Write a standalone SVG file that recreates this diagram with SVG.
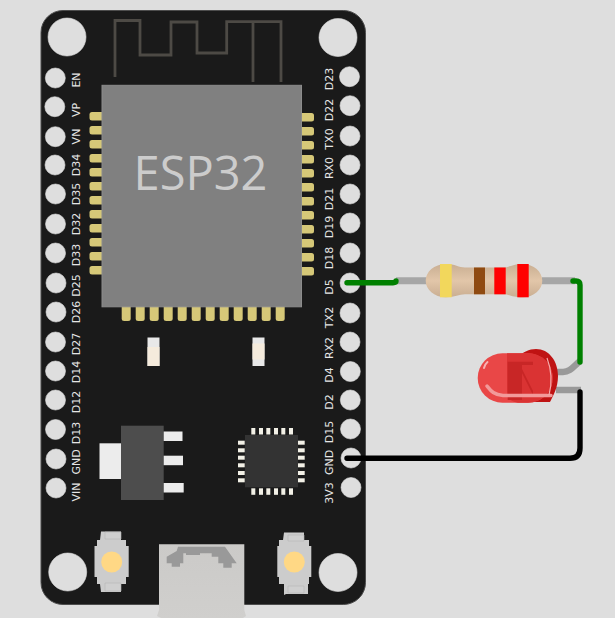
<svg xmlns="http://www.w3.org/2000/svg" width="615" height="618" viewBox="0 0 615 618">
<defs>
<linearGradient id="resBody" x1="0" y1="0" x2="0" y2="1">
<stop offset="0" stop-color="#c9ae92"/><stop offset="0.5" stop-color="#e2c6a9"/><stop offset="1" stop-color="#c9ae92"/>
</linearGradient>
<linearGradient id="usbFill" x1="0" y1="0" x2="0" y2="1">
<stop offset="0" stop-color="#cbcac8"/><stop offset="1" stop-color="#d0cfcd"/>
</linearGradient>
</defs>
<style>
.hole{fill:#dedede;stroke:#dedede;stroke-width:.6}
.lab{font-family:"DejaVu Sans",sans-serif;font-size:11px;fill:#e6e6e6;text-anchor:middle}
.pad{fill:#d6c878}
.qfn{fill:#f2f0e6}
.reg{fill:#ececec}
.ant{fill:none;stroke:#4d4a45;stroke-width:2.8}
.btn{fill:#cccccc}
.cap{fill:#ffd885}
.usbg{fill:#999999}
.wire{fill:none;stroke-width:5.4;stroke-linecap:round;stroke-linejoin:round}
.lead{fill:none;stroke:#a6a6a6;stroke-width:7}
</style>
<rect width="615" height="618" fill="#dedede"/>
<g id="esp32">
<rect x="41" y="10.5" width="324.5" height="594" rx="22" fill="#1a1a1a" stroke="#4d4d4d" stroke-width="1"/>
<path class="ant" d="M115 77V20.5H140V55H171V22H197V53H226.7V21.7H281V82M253 21.7V82"/>
<g class="hole">
<circle cx="67" cy="37" r="19"/><circle cx="338" cy="37.5" r="19"/><circle cx="67.7" cy="572" r="19"/><circle cx="338" cy="572.5" r="19"/>
<circle cx="55.3" cy="78" r="10"/><circle cx="54.8" cy="106.7" r="10"/><circle cx="55.3" cy="136.7" r="10"/><circle cx="55" cy="165" r="10"/><circle cx="55.5" cy="194" r="10"/><circle cx="55.5" cy="224" r="10"/><circle cx="55.5" cy="253" r="10"/><circle cx="56" cy="283" r="10"/><circle cx="56" cy="312" r="10"/><circle cx="55.5" cy="342" r="10"/><circle cx="55.5" cy="371" r="10"/><circle cx="55.5" cy="400" r="10"/><circle cx="55.5" cy="429.5" r="10"/><circle cx="56" cy="459" r="10"/><circle cx="56" cy="488" r="10"/>
<circle cx="349.5" cy="76.7" r="10"/><circle cx="350" cy="105.7" r="10"/><circle cx="350" cy="136" r="10"/><circle cx="350" cy="165" r="10"/><circle cx="350" cy="194" r="10"/><circle cx="350" cy="223" r="10"/><circle cx="350" cy="253" r="10"/><circle cx="350" cy="283" r="10"/><circle cx="350" cy="313" r="10"/><circle cx="350" cy="342" r="10"/><circle cx="350.3" cy="371.5" r="10"/><circle cx="350.3" cy="400" r="10"/><circle cx="350.5" cy="429" r="10"/><circle cx="351" cy="458" r="10"/><circle cx="351" cy="487.5" r="10"/>
</g>
<g class="lab">
<text transform="translate(80 80) rotate(-90)">EN</text>
<text transform="translate(80 110) rotate(-90)">VP</text>
<text transform="translate(80 136.5) rotate(-90)">VN</text>
<text transform="translate(80 165) rotate(-90)">D34</text>
<text transform="translate(80 194) rotate(-90)">D35</text>
<text transform="translate(80 224) rotate(-90)">D32</text>
<text transform="translate(80 255) rotate(-90)">D33</text>
<text transform="translate(80 285.5) rotate(-90)">D25</text>
<text transform="translate(80 312) rotate(-90)">D26</text>
<text transform="translate(80 344) rotate(-90)">D27</text>
<text transform="translate(80 372) rotate(-90)">D14</text>
<text transform="translate(80 402) rotate(-90)">D12</text>
<text transform="translate(80 433) rotate(-90)">D13</text>
<text transform="translate(80 462) rotate(-90)">GND</text>
<text transform="translate(80 492) rotate(-90)">VIN</text>
<text transform="translate(333 79) rotate(-90)">D23</text>
<text transform="translate(333 110) rotate(-90)">D22</text>
<text transform="translate(333 139) rotate(-90)">TX0</text>
<text transform="translate(333 168) rotate(-90)">RX0</text>
<text transform="translate(333 199) rotate(-90)">D21</text>
<text transform="translate(333 227) rotate(-90)">D19</text>
<text transform="translate(333 258) rotate(-90)">D18</text>
<text transform="translate(333 287) rotate(-90)">D5</text>
<text transform="translate(333 317.5) rotate(-90)">TX2</text>
<text transform="translate(333 348) rotate(-90)">RX2</text>
<text transform="translate(333 375) rotate(-90)">D4</text>
<text transform="translate(333 402) rotate(-90)">D2</text>
<text transform="translate(333 432) rotate(-90)">D15</text>
<text transform="translate(333 462.5) rotate(-90)">GND</text>
<text transform="translate(333 493) rotate(-90)">3V3</text>
</g>
<g class="pad">
<rect x="89.5" y="112" width="16" height="8.5" rx="2.5"/><rect x="89.5" y="126" width="16" height="8.5" rx="2.5"/><rect x="89.5" y="140" width="16" height="8.5" rx="2.5"/><rect x="89.5" y="154" width="16" height="8.5" rx="2.5"/><rect x="89.5" y="168" width="16" height="8.5" rx="2.5"/><rect x="89.5" y="182" width="16" height="8.5" rx="2.5"/><rect x="89.5" y="196" width="16" height="8.5" rx="2.5"/><rect x="89.5" y="210" width="16" height="8.5" rx="2.5"/><rect x="89.5" y="224" width="16" height="8.5" rx="2.5"/><rect x="89.5" y="238" width="16" height="8.5" rx="2.5"/><rect x="89.5" y="252" width="16" height="8.5" rx="2.5"/><rect x="89.5" y="266" width="16" height="8.5" rx="2.5"/>
<rect x="298" y="113" width="16" height="8.5" rx="2.5"/><rect x="298" y="127" width="16" height="8.5" rx="2.5"/><rect x="298" y="141" width="16" height="8.5" rx="2.5"/><rect x="298" y="155" width="16" height="8.5" rx="2.5"/><rect x="298" y="169" width="16" height="8.5" rx="2.5"/><rect x="298" y="183" width="16" height="8.5" rx="2.5"/><rect x="298" y="197" width="16" height="8.5" rx="2.5"/><rect x="298" y="211" width="16" height="8.5" rx="2.5"/><rect x="298" y="225" width="16" height="8.5" rx="2.5"/><rect x="298" y="239" width="16" height="8.5" rx="2.5"/><rect x="298" y="253" width="16" height="8.5" rx="2.5"/><rect x="298" y="267" width="16" height="8.5" rx="2.5"/>
<rect x="121.7" y="303" width="9" height="18" rx="2.5"/><rect x="135.7" y="303" width="9" height="18" rx="2.5"/><rect x="149.7" y="303" width="9" height="18" rx="2.5"/><rect x="163.7" y="303" width="9" height="18" rx="2.5"/><rect x="177.7" y="303" width="9" height="18" rx="2.5"/><rect x="191.7" y="303" width="9" height="18" rx="2.5"/><rect x="205.7" y="303" width="9" height="18" rx="2.5"/><rect x="219.7" y="303" width="9" height="18" rx="2.5"/><rect x="233.7" y="303" width="9" height="18" rx="2.5"/><rect x="247.7" y="303" width="9" height="18" rx="2.5"/><rect x="261.7" y="303" width="9" height="18" rx="2.5"/><rect x="275.7" y="303" width="9" height="18" rx="2.5"/>
</g>
<rect x="102" y="85.3" width="199.5" height="221.5" fill="#808080" stroke="#8c8c8c" stroke-width="1"/>
<text x="200.5" y="190" font-family="'Open Sans',sans-serif" font-size="47" fill="#cccccc" text-anchor="middle">ESP32</text>
<rect x="147.5" y="337.5" width="12" height="28.5" fill="#e8e8e8"/><rect x="147.5" y="347" width="12" height="19" fill="#f5ebdc"/>
<rect x="252.5" y="337.5" width="12" height="28.5" fill="#e8e8e8"/><rect x="252.5" y="343.5" width="12" height="16" fill="#f5ebdc"/>
<rect x="121" y="425.7" width="42.7" height="74.3" fill="#4d4d4d"/>
<rect class="reg" x="99.5" y="443.3" width="21.5" height="35.7"/>
<rect class="reg" x="163.7" y="431.5" width="18.8" height="9.5"/><rect class="reg" x="163.7" y="455.7" width="19.3" height="9.5"/><rect class="reg" x="163.7" y="483" width="20" height="9.5"/>
<rect x="245" y="435" width="53" height="52.3" fill="#333333"/>
<g class="qfn">
<rect x="251.3" y="428" width="4" height="6.5"/><rect x="259" y="428" width="4" height="6.5"/><rect x="266.3" y="428" width="4" height="6.5"/><rect x="274" y="428" width="4" height="6.5"/><rect x="281.3" y="428" width="4" height="6.5"/><rect x="289" y="428" width="4" height="6.5"/>
<rect x="251.3" y="488.3" width="4" height="6.5"/><rect x="259" y="488.3" width="4" height="6.5"/><rect x="266.3" y="488.3" width="4" height="6.5"/><rect x="274" y="488.3" width="4" height="6.5"/><rect x="281.3" y="488.3" width="4" height="6.5"/><rect x="289" y="488.3" width="4" height="6.5"/>
<rect x="238" y="440.7" width="6.7" height="4"/><rect x="238" y="448.3" width="6.7" height="4"/><rect x="238" y="455.7" width="6.7" height="4"/><rect x="238" y="463.3" width="6.7" height="4"/><rect x="238" y="471" width="6.7" height="4"/><rect x="238" y="478.3" width="6.7" height="4"/>
<rect x="298" y="440.7" width="6.7" height="4"/><rect x="298" y="448.3" width="6.7" height="4"/><rect x="298" y="455.7" width="6.7" height="4"/><rect x="298" y="463.3" width="6.7" height="4"/><rect x="298" y="471" width="6.7" height="4"/><rect x="298" y="478.3" width="6.7" height="4"/>
</g>
<path class="btn" d="M101 531.5H121V540H126V546H128.7V577H126V584H121V592H101L100 584H97V577H94.5V546H97V540H100Z"/>
<path d="M105 532H121V539H105ZM105 583H121V591H105Z" fill="#cfcfcf" stroke="#b5b5b5" stroke-width="0.6"/>
<circle class="cap" cx="111.7" cy="562" r="10.5"/>
<path class="btn" d="M284 532.5H304V540H309V546H311.3V577H309V584H308V594H286L284 595V584H279V577H277.3V546H279V540H283Z"/>
<path d="M288 535H304V541H288ZM288 586H304V593H288Z" fill="#cfcfcf" stroke="#b5b5b5" stroke-width="0.6"/>
<circle class="cap" cx="294.3" cy="562" r="10.5"/>
<path d="M159 544.3H244.3V610L246 616L243 618H161L157 616L159 610Z" fill="url(#usbFill)"/>
<path class="usbg" d="M166.7 556.7L176.7 551L178 546.7H225L236.7 563.3H231.7V567.7H223.3V563.3H218.3V556.7H211.7V553.3H200V555H186V553.3H183.3V563.3H180V566.7H171.7V563.3H166.7Z"/>
</g>
<g id="resistor">
<path class="lead" d="M396 280.8H428M542 280.8H575"/>
<path d="M446 264C455 264 459 267.5 465 267.5H503C509 267.5 513 264 522.5 264C534 264 542.3 272 542.3 280.8C542.3 289.5 534 297.3 522.5 297.3C513 297.3 509 294.3 503 294.3H465C459 294.3 455 297.3 446 297.3C434 297.3 425.7 289.5 425.7 280.8C425.7 272 434 264 446 264Z" fill="url(#resBody)"/>
<rect x="440" y="264" width="11.7" height="33.3" fill="#f2d75c"/>
<rect x="474" y="267.5" width="11" height="26.8" fill="#8f4a11"/>
<rect x="494.3" y="267.5" width="11.4" height="26.8" fill="#ff0000"/>
<rect x="517.3" y="264" width="11.4" height="33.3" fill="#ff0000"/>
</g>
<g id="led">
<path fill="none" stroke="#999999" stroke-width="6.5" d="M556 372H563C570 372 573 367 580 361"/>
<path fill="none" stroke="#999999" stroke-width="6.5" d="M556 390H581"/>
<path d="M536 349C549 349 558 361 558 376C558 388 553 396 550 402H530L518 395V357C523 352 529 349 536 349Z" fill="#bf1313"/>
<rect x="477.7" y="353.3" width="75" height="49.4" rx="24.7" fill="#e94747"/>
<path d="M507 353.3H528C542 353.3 552.7 364 552.7 378C552.7 392 542 402.7 528 402.7H520C512 402.7 507 398 507 392Z" fill="#da3333"/>
<path d="M507.7 361.7H533V365H522V369L533 391V395L522 373V400H507.7Z" fill="#c82626"/>
<path d="M487 386C491 391 494 395 503 395.5H551" fill="none" stroke="#f29a9a" stroke-width="3.5" stroke-linecap="round"/>
<path d="M487.5 362Q485 364 484 368" fill="none" stroke="#f7b4b4" stroke-width="2" stroke-linecap="round"/>
<path d="M547 358Q554 376 549 395" fill="none" stroke="#f5a9a9" stroke-width="1.2"/>
</g>
<g id="connectors">
<path class="wire" stroke="#008000" d="M347 282.7H393Q396 282.7 396 281"/>
<path class="wire" stroke="#008000" d="M573 281H576Q580 281 580 285V362"/>
<path class="wire" stroke="#000000" d="M580 392V448Q580 458.3 570 458.3H347"/>
</g>
</svg>
